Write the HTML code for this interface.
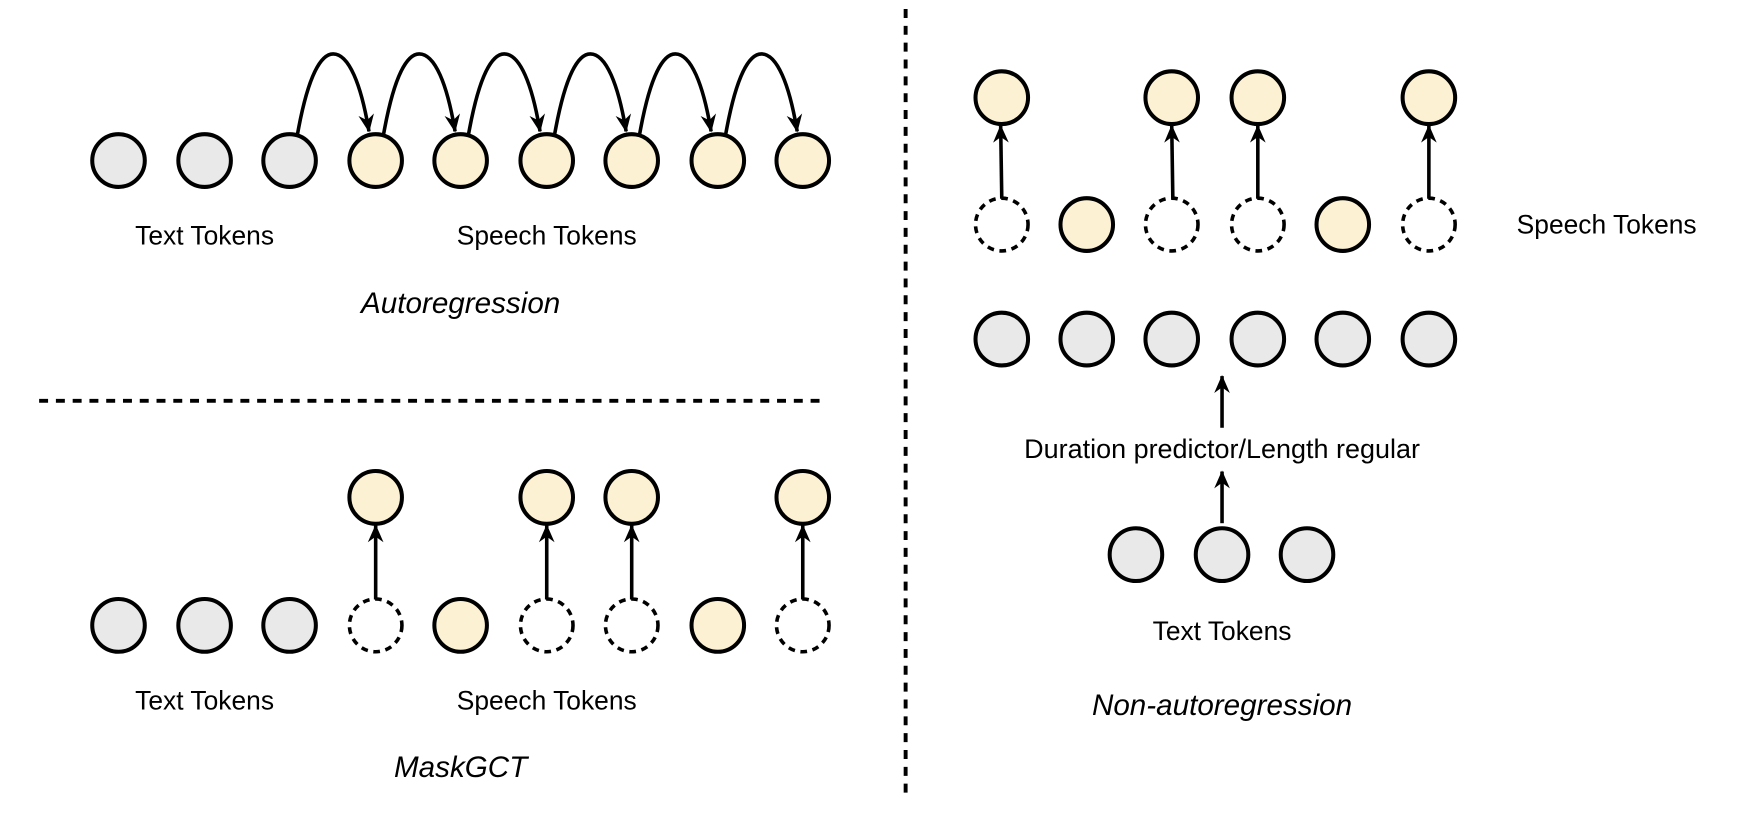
<!DOCTYPE html>
<html><head><meta charset="utf-8"><style>html,body{margin:0;padding:0;background:#fff}svg{display:block}</style></head>
<body>
<svg width="1752" height="814" viewBox="0 0 1567 725" preserveAspectRatio="none" xmlns="http://www.w3.org/2000/svg">
<defs>
<marker id="ah" markerWidth="16" markerHeight="16" refX="15" refY="8" orient="auto" markerUnits="userSpaceOnUse" viewBox="0 0 16 16">
<path d="M0,1 L16,8 L0,15 L5,8 z" fill="#000"/>
</marker>
<style>
.g{fill:#e9e9e9;stroke:#000;stroke-width:3.6}
.y{fill:#fcf2d3;stroke:#000;stroke-width:3.6}
.d{fill:#fff;stroke:#000;stroke-width:3.2;stroke-dasharray:6 5}
.a{stroke:#000;stroke-width:3.2;fill:none}
text{font-family:"Liberation Sans",sans-serif;font-size:23.6px;text-anchor:middle;fill:#000}
.i{font-style:italic;font-size:26.5px}
</style>
</defs>
<line x1="810" y1="8" x2="810" y2="708" stroke="#000" stroke-width="3.5" stroke-dasharray="8 7"/>
<line x1="35" y1="357" x2="737" y2="357" stroke="#000" stroke-width="3.5" stroke-dasharray="8 7"/>

<g>
<circle class="g" cx="106" cy="143" r="23.5"/>
<circle class="g" cx="183" cy="143" r="23.5"/>
<circle class="g" cx="259" cy="143" r="23.5"/>
<circle class="y" cx="336" cy="143" r="23.5"/>
<circle class="y" cx="412" cy="143" r="23.5"/>
<circle class="y" cx="489" cy="143" r="23.5"/>
<circle class="y" cx="565" cy="143" r="23.5"/>
<circle class="y" cx="642" cy="143" r="23.5"/>
<circle class="y" cx="718" cy="143" r="23.5"/>
<path class="a" marker-end="url(#ah)" d="M266,120 C276,64 288,48 298,48 C312,48 323,75 330,117"/>
<path class="a" marker-end="url(#ah)" d="M343,120 C353,64 365,48 375,48 C389,48 400,75 407,117"/>
<path class="a" marker-end="url(#ah)" d="M419,120 C429,64 441,48 451,48 C465,48 476,75 483,117"/>
<path class="a" marker-end="url(#ah)" d="M496,120 C506,64 518,48 528,48 C542,48 553,75 560,117"/>
<path class="a" marker-end="url(#ah)" d="M572,120 C582,64 594,48 604,48 C618,48 629,75 636,117"/>
<path class="a" marker-end="url(#ah)" d="M649,120 C659,64 671,48 681,48 C695,48 706,75 713,117"/>
<text x="183" y="218">Text Tokens</text>
<text x="489" y="218">Speech Tokens</text>
<text class="i" x="412" y="279">Autoregression</text>
</g>

<g>
<circle class="g" cx="106" cy="557" r="23.5"/>
<circle class="g" cx="183" cy="557" r="23.5"/>
<circle class="g" cx="259" cy="557" r="23.5"/>
<circle class="d" cx="336" cy="557" r="23.5"/>
<circle class="y" cx="412" cy="557" r="23.5"/>
<circle class="d" cx="489" cy="557" r="23.5"/>
<circle class="d" cx="565" cy="557" r="23.5"/>
<circle class="y" cx="642" cy="557" r="23.5"/>
<circle class="d" cx="718" cy="557" r="23.5"/>
<circle class="y" cx="336" cy="443" r="23.5"/>
<circle class="y" cx="489" cy="443" r="23.5"/>
<circle class="y" cx="565" cy="443" r="23.5"/>
<circle class="y" cx="718" cy="443" r="23.5"/>
<line class="a" marker-end="url(#ah)" x1="336" y1="534" x2="336" y2="468"/>
<line class="a" marker-end="url(#ah)" x1="489" y1="534" x2="489" y2="468"/>
<line class="a" marker-end="url(#ah)" x1="565" y1="534" x2="565" y2="468"/>
<line class="a" marker-end="url(#ah)" x1="718" y1="534" x2="718" y2="468"/>
<text x="183" y="632">Text Tokens</text>
<text x="489" y="632">Speech Tokens</text>
<text class="i" x="412" y="692">MaskGCT</text>
</g>

<g>
<circle class="y" cx="896" cy="87" r="23.5"/>
<circle class="y" cx="1048" cy="87" r="23.5"/>
<circle class="y" cx="1125" cy="87" r="23.5"/>
<circle class="y" cx="1278" cy="87" r="23.5"/>
<circle class="d" cx="896" cy="200" r="23.5"/>
<circle class="y" cx="972" cy="200" r="23.5"/>
<circle class="d" cx="1048" cy="200" r="23.5"/>
<circle class="d" cx="1125" cy="200" r="23.5"/>
<circle class="y" cx="1201" cy="200" r="23.5"/>
<circle class="d" cx="1278" cy="200" r="23.5"/>
<line class="a" marker-end="url(#ah)" x1="896" y1="177" x2="895" y2="112"/>
<line class="a" marker-end="url(#ah)" x1="1049" y1="177" x2="1048" y2="112"/>
<line class="a" marker-end="url(#ah)" x1="1125" y1="177" x2="1125" y2="112"/>
<line class="a" marker-end="url(#ah)" x1="1278" y1="177" x2="1278" y2="112"/>
<text x="1437" y="208">Speech Tokens</text>
<circle class="g" cx="896" cy="302" r="23.5"/>
<circle class="g" cx="972" cy="302" r="23.5"/>
<circle class="g" cx="1048" cy="302" r="23.5"/>
<circle class="g" cx="1125" cy="302" r="23.5"/>
<circle class="g" cx="1201" cy="302" r="23.5"/>
<circle class="g" cx="1278" cy="302" r="23.5"/>
<line class="a" marker-end="url(#ah)" x1="1093" y1="381" x2="1093" y2="335"/>
<text x="1093" y="408" textLength="354" lengthAdjust="spacingAndGlyphs">Duration predictor/Length regular</text>
<line class="a" marker-end="url(#ah)" x1="1093" y1="466" x2="1093" y2="420"/>
<circle class="g" cx="1016" cy="494" r="23.5"/>
<circle class="g" cx="1093" cy="494" r="23.5"/>
<circle class="g" cx="1169" cy="494" r="23.5"/>
<text x="1093" y="570">Text Tokens</text>
<text class="i" x="1093" y="637">Non-autoregression</text>
</g>
</svg>
</body></html>
